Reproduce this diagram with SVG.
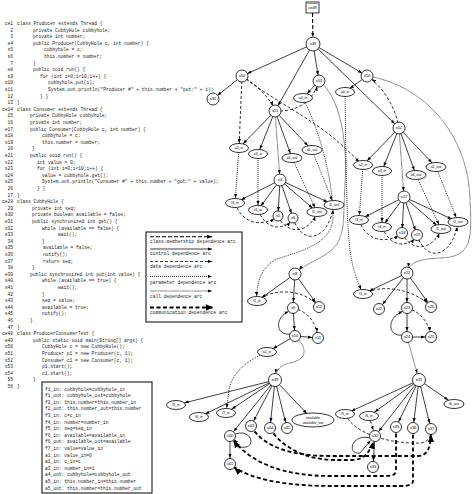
<svg xmlns="http://www.w3.org/2000/svg" width="474" height="494" viewBox="0 0 474 494">
<style>
.code{font-family:"Liberation Mono",monospace;font-size:4.6px;fill:#222}
.ln{text-anchor:end}
.lg{font-family:"Liberation Mono",monospace;font-size:4.6px;fill:#222}
.nd{fill:#fff;stroke:#000;stroke-width:0.8}
.t{font-family:"Liberation Sans",sans-serif;font-size:4px;text-anchor:middle;fill:#000}
.te{font-family:"Liberation Sans",sans-serif;font-size:3.5px;text-anchor:middle;fill:#000}
.ctrl{fill:none;stroke:#000;stroke-width:0.75}
.data{fill:none;stroke:#000;stroke-width:0.8;stroke-dasharray:3 2}
.param{fill:none;stroke:#000;stroke-width:0.8;stroke-dasharray:1 1}
.call{fill:none;stroke:#000;stroke-width:0.8;stroke-dasharray:0.6 0.5}
.comm{fill:none;stroke:#000;stroke-width:1.8;stroke-dasharray:4 2.5}
.cm{fill:none;stroke:#000;stroke-width:1.1;stroke-dasharray:4 2}
.box{fill:#fff;stroke:#000;stroke-width:1}
</style>
<defs>
<marker id="m0" viewBox="0 0 10 10" refX="10" refY="5" markerWidth="4" markerHeight="4" markerUnits="userSpaceOnUse" orient="auto"><path d="M0,1 L10,5 L0,9z" fill="#000"/></marker>
<marker id="m5" viewBox="0 0 10 10" refX="22.5" refY="5" markerWidth="4" markerHeight="4" markerUnits="userSpaceOnUse" orient="auto"><path d="M0,1 L10,5 L0,9z" fill="#000"/></marker>
<marker id="m6" viewBox="0 0 10 10" refX="25" refY="5" markerWidth="4" markerHeight="4" markerUnits="userSpaceOnUse" orient="auto"><path d="M0,1 L10,5 L0,9z" fill="#000"/></marker>
<marker id="m7" viewBox="0 0 10 10" refX="27.5" refY="5" markerWidth="4" markerHeight="4" markerUnits="userSpaceOnUse" orient="auto"><path d="M0,1 L10,5 L0,9z" fill="#000"/></marker>
<marker id="m9" viewBox="0 0 10 10" refX="32.5" refY="5" markerWidth="4" markerHeight="4" markerUnits="userSpaceOnUse" orient="auto"><path d="M0,1 L10,5 L0,9z" fill="#000"/></marker>
<marker id="mb" viewBox="0 0 10 10" refX="18.6" refY="5" markerWidth="7" markerHeight="7" markerUnits="userSpaceOnUse" orient="auto"><path d="M0,0.5 L10,5 L0,9.5z" fill="#000"/></marker>
<marker id="mb0" viewBox="0 0 10 10" refX="10" refY="5" markerWidth="7" markerHeight="7" markerUnits="userSpaceOnUse" orient="auto"><path d="M0,0.5 L10,5 L0,9.5z" fill="#000"/></marker>
<marker id="mc" viewBox="0 0 10 10" refX="10" refY="5" markerWidth="5" markerHeight="5" markerUnits="userSpaceOnUse" orient="auto"><path d="M0,1 L10,5 L0,9z" fill="#000"/></marker>
</defs>
<rect width="474" height="494" fill="#fff"/>

<g id="code">
<text class="code ln" x="13" y="24.9">ce1</text><text class="code" x="17" y="24.9">class Producer extends Thread {</text>
<text class="code ln" x="13" y="31.5">2</text><text class="code" x="33" y="31.5">private CubbyHole cubbyhole;</text>
<text class="code ln" x="13" y="38.1">3</text><text class="code" x="33" y="38.1">private int number;</text>
<text class="code ln" x="13" y="44.7">e4</text><text class="code" x="33" y="44.7">public Producer(CubbyHole c, int number) {</text>
<text class="code ln" x="13" y="51.3">s5</text><text class="code" x="44" y="51.3">cubbyhole = c;</text>
<text class="code ln" x="13" y="57.9">s6</text><text class="code" x="44" y="57.9">this.number = number;</text>
<text class="code ln" x="13" y="64.5">7</text><text class="code" x="33" y="64.5">}</text>
<text class="code ln" x="13" y="71.1">e8</text><text class="code" x="33" y="71.1">public void run() {</text>
<text class="code ln" x="13" y="77.7">s9</text><text class="code" x="40" y="77.7">for (int i=0;i&lt;10;i++) {</text>
<text class="code ln" x="13" y="84.3">s10</text><text class="code" x="48" y="84.3">cubbyhole.put(i);</text>
<text class="code ln" x="13" y="90.9">s11</text><text class="code" x="48" y="90.9">System.out.println("Producer #" + this.number + "put:" + i);</text>
<text class="code ln" x="13" y="97.5">12</text><text class="code" x="40" y="97.5">} }</text>
<text class="code ln" x="13" y="104.1">13</text><text class="code" x="17" y="104.1">}</text>
<text class="code ln" x="13" y="110.7">ce14</text><text class="code" x="17" y="110.7">class Consumer extends Thread {</text>
<text class="code ln" x="13" y="117.3">15</text><text class="code" x="30" y="117.3">private CubbyHole cubbyhole;</text>
<text class="code ln" x="13" y="123.9">16</text><text class="code" x="30" y="123.9">private int number;</text>
<text class="code ln" x="13" y="130.5">e17</text><text class="code" x="30" y="130.5">public Consumer(CubbyHole c, int number) {</text>
<text class="code ln" x="13" y="137.1">s18</text><text class="code" x="42" y="137.1">cubbyhole = c;</text>
<text class="code ln" x="13" y="143.7">s19</text><text class="code" x="42" y="143.7">this.number = number;</text>
<text class="code ln" x="13" y="150.3">20</text><text class="code" x="32" y="150.3">}</text>
<text class="code ln" x="13" y="156.9">e21</text><text class="code" x="30" y="156.9">public void run() {</text>
<text class="code ln" x="13" y="163.5">s22</text><text class="code" x="37" y="163.5">int value = 0;</text>
<text class="code ln" x="13" y="170.1">s23</text><text class="code" x="37" y="170.1">for (int i=0;i&lt;10;i++) {</text>
<text class="code ln" x="13" y="176.7">s24</text><text class="code" x="42" y="176.7">value = cubbyhole.get();</text>
<text class="code ln" x="13" y="183.3">s25</text><text class="code" x="42" y="183.3">System.out.println("Consumer #" + this.number + "got:" + value);</text>
<text class="code ln" x="13" y="189.9">26</text><text class="code" x="37" y="189.9">} }</text>
<text class="code ln" x="13" y="196.5">27</text><text class="code" x="17" y="196.5">}</text>
<text class="code ln" x="13" y="203.1">ce28</text><text class="code" x="17" y="203.1">class CubbyHole {</text>
<text class="code ln" x="13" y="209.7">29</text><text class="code" x="32" y="209.7">private int seq;</text>
<text class="code ln" x="13" y="216.3">s30</text><text class="code" x="32" y="216.3">private boolean available = false;</text>
<text class="code ln" x="13" y="222.9">e31</text><text class="code" x="32" y="222.9">public synchronized int get() {</text>
<text class="code ln" x="13" y="229.5">s32</text><text class="code" x="42" y="229.5">while (available == false) {</text>
<text class="code ln" x="13" y="236.1">s33</text><text class="code" x="58" y="236.1">wait();</text>
<text class="code ln" x="13" y="242.7">34</text><text class="code" x="42" y="242.7">}</text>
<text class="code ln" x="13" y="249.3">s35</text><text class="code" x="43" y="249.3">available = false;</text>
<text class="code ln" x="13" y="255.9">s36</text><text class="code" x="43" y="255.9">notify();</text>
<text class="code ln" x="13" y="262.5">s37</text><text class="code" x="43" y="262.5">return seq;</text>
<text class="code ln" x="13" y="269.1">38</text><text class="code" x="32" y="269.1">}</text>
<text class="code ln" x="13" y="275.7">e39</text><text class="code" x="30" y="275.7">public synchronized int put(int value) {</text>
<text class="code ln" x="13" y="282.3">s40</text><text class="code" x="42" y="282.3">while (available == true) {</text>
<text class="code ln" x="13" y="288.9">s41</text><text class="code" x="58" y="288.9">wait();</text>
<text class="code ln" x="13" y="295.5">42</text><text class="code" x="42" y="295.5">}</text>
<text class="code ln" x="13" y="302.1">s43</text><text class="code" x="42" y="302.1">seq = value;</text>
<text class="code ln" x="13" y="308.7">s44</text><text class="code" x="42" y="308.7">available = true;</text>
<text class="code ln" x="13" y="315.3">s45</text><text class="code" x="42" y="315.3">notify();</text>
<text class="code ln" x="13" y="321.9">46</text><text class="code" x="30" y="321.9">}</text>
<text class="code ln" x="13" y="328.5">47</text><text class="code" x="17" y="328.5">}</text>
<text class="code ln" x="13" y="335.1">ce48</text><text class="code" x="17" y="335.1">class ProducerConsumerTest {</text>
<text class="code ln" x="13" y="341.7">e49</text><text class="code" x="33" y="341.7">public static void main(String[] args) {</text>
<text class="code ln" x="13" y="348.3">s50</text><text class="code" x="42" y="348.3">CubbyHole c = new CubbyHole();</text>
<text class="code ln" x="13" y="354.9">s51</text><text class="code" x="42" y="354.9">Producer p1 = new Producer(c, 1);</text>
<text class="code ln" x="13" y="361.5">s52</text><text class="code" x="42" y="361.5">Consumer c1 = new Consumer(c, 1);</text>
<text class="code ln" x="13" y="368.1">s53</text><text class="code" x="42" y="368.1">p1.start();</text>
<text class="code ln" x="13" y="374.7">s54</text><text class="code" x="42" y="374.7">c1.start();</text>
<text class="code ln" x="13" y="381.3">55</text><text class="code" x="33" y="381.3">}</text>
<text class="code ln" x="13" y="387.9">56</text><text class="code" x="17" y="387.9">}</text>
</g>

<g id="param-legend">
<rect class="box" x="42" y="382" width="110" height="111"/>
<text class="lg" x="45" y="390.6">f1_in: cubbyhole=cubbyhole_in</text>
<text class="lg" x="45" y="397.2">f1_out: cubbyhole_out=cubbyhole</text>
<text class="lg" x="45" y="403.8">f2_in: this.number=this.number_in</text>
<text class="lg" x="45" y="410.4">f2_out: this.number_out=this.number</text>
<text class="lg" x="45" y="417">f3_in: c=c_in</text>
<text class="lg" x="45" y="423.6">f4_in: number=number_in</text>
<text class="lg" x="45" y="430.2">f5_in: seq=seq_in</text>
<text class="lg" x="45" y="436.8">f6_in: available=available_in</text>
<text class="lg" x="45" y="443.4">f6_out: available_out=available</text>
<text class="lg" x="45" y="450">f7_in: value=value_in</text>
<text class="lg" x="45" y="456.6">a1_in: value_in=0</text>
<text class="lg" x="45" y="463.2">a1_in: c_in=c</text>
<text class="lg" x="45" y="469.8">a3_in: number_in=1</text>
<text class="lg" x="45" y="476.4">a4_out: cubbyhole=cubbyhole_out</text>
<text class="lg" x="45" y="483">a5_in: this.number_in=this.number</text>
<text class="lg" x="45" y="489.6">a5_out: this.number=this.number_out</text>
</g>

<g id="arc-legend">
<rect class="box" x="146" y="232" width="96" height="90"/>
<path class="cm" d="M150,236.7 L212,236.7" marker-end="url(#mc)"/>
<text class="lg" x="150" y="243">class-membership dependence arc</text>
<path class="ctrl" d="M150,249 L212,249" marker-end="url(#m0)"/>
<text class="lg" x="150" y="254.5">control dependence arc</text>
<path class="data" d="M150,261.5 L212,261.5" marker-end="url(#m0)"/>
<text class="lg" x="150" y="267.5">data dependence arc</text>
<path class="param" d="M150,276.5 L212,276.5" marker-end="url(#m0)"/>
<text class="lg" x="150" y="283.5">parameter dependence arc</text>
<path class="call" d="M150,291 L212,291" marker-end="url(#m0)"/>
<text class="lg" x="150" y="298">call dependence arc</text>
<path class="comm" d="M150,307.5 L213,307.5" marker-end="url(#mb0)"/>
<text class="lg" x="150" y="313.5">communication dependence arc</text>
</g>

<g id="connectors">
<path class="cm" d="M312.5,13 L313,44" marker-end="url(#m7)"/>
<path class="ctrl" d="M313,44 L242,76" marker-end="url(#m6)"/>
<path class="ctrl" d="M313,44 L275,111" marker-end="url(#m6)"/>
<path class="ctrl" d="M313,44 L319,81" marker-end="url(#m6)"/>
<path class="ctrl" d="M313,44 L399,128" marker-end="url(#m6)"/>
<path class="ctrl" d="M313,44 L367,76" marker-end="url(#m6)"/>
<path class="ctrl" d="M242,76 L213,99" marker-end="url(#m6)"/>
<path class="ctrl" d="M319,81 L303,98" marker-end="url(#m6)"/>
<path class="ctrl" d="M367,76 L345,92" marker-end="url(#m6)"/>
<path class="ctrl" d="M275,111 L239,148" marker-end="url(#m6)"/>
<path class="ctrl" d="M275,111 L258,154" marker-end="url(#m5)"/>
<path class="ctrl" d="M275,111 L292,158" marker-end="url(#m5)"/>
<path class="ctrl" d="M275,111 L312,150" marker-end="url(#m6)"/>
<path class="ctrl" d="M280,180 L235,203" marker-end="url(#m7)"/>
<path class="ctrl" d="M280,180 L258,210" marker-end="url(#m5)"/>
<path class="ctrl" d="M280,180 L278,216" marker-end="url(#m5)"/>
<path class="ctrl" d="M280,180 L293,218" marker-end="url(#m5)"/>
<path class="ctrl" d="M280,180 L317,212" marker-end="url(#m6)"/>
<path class="ctrl" d="M280,180 L334,205" marker-end="url(#m7)"/>
<path class="ctrl" d="M399,128 L363,165" marker-end="url(#m6)"/>
<path class="ctrl" d="M399,128 L382,171" marker-end="url(#m5)"/>
<path class="ctrl" d="M399,128 L416,175" marker-end="url(#m5)"/>
<path class="ctrl" d="M399,128 L436,167" marker-end="url(#m6)"/>
<path class="ctrl" d="M404,197 L359,220" marker-end="url(#m7)"/>
<path class="ctrl" d="M404,197 L382,227" marker-end="url(#m5)"/>
<path class="ctrl" d="M404,197 L402,233" marker-end="url(#m5)"/>
<path class="ctrl" d="M404,197 L417,235" marker-end="url(#m5)"/>
<path class="ctrl" d="M404,197 L441,229" marker-end="url(#m6)"/>
<path class="ctrl" d="M404,197 L458,222" marker-end="url(#m7)"/>
<path class="ctrl" d="M295,274 L257,301" marker-end="url(#m6)"/>
<path class="ctrl" d="M295,274 L293,308" marker-end="url(#m6)"/>
<path class="ctrl" d="M295,274 L319,307" marker-end="url(#m6)"/>
<path class="ctrl" d="M293,308 L295,336" marker-end="url(#m6)"/>
<path class="ctrl" d="M295,336 L318,338" marker-end="url(#m6)"/>
<path class="ctrl" d="M295,336 L267,352" marker-end="url(#m7)"/>
<path class="ctrl" d="M290,334 C276,336 274,318 288.5,311.5" marker-end="url(#m0)"/>
<path class="ctrl" d="M407,273 L363,294" marker-end="url(#m7)"/>
<path class="ctrl" d="M407,273 L379,309" marker-end="url(#m6)"/>
<path class="ctrl" d="M407,273 L407,308" marker-end="url(#m6)"/>
<path class="ctrl" d="M407,273 L431,307" marker-end="url(#m6)"/>
<path class="ctrl" d="M407,308 L407,337" marker-end="url(#m6)"/>
<path class="ctrl" d="M407,337 L431,337" marker-end="url(#m6)"/>
<path class="ctrl" d="M402,335 C388,337 386,318 402.5,311.5" marker-end="url(#m0)"/>
<path class="ctrl" d="M275,380 L176,405" marker-end="url(#m9)"/>
<path class="ctrl" d="M275,380 L199,417" marker-end="url(#m7)"/>
<path class="ctrl" d="M275,380 L226,413" marker-end="url(#m7)"/>
<path class="ctrl" d="M275,380 L230,436" marker-end="url(#m6)"/>
<path class="ctrl" d="M275,380 L251,426" marker-end="url(#m6)"/>
<path class="ctrl" d="M275,380 L270,428" marker-end="url(#m6)"/>
<path class="ctrl" d="M275,380 L287,428" marker-end="url(#m6)"/>
<path class="ctrl" d="M275,380 L313,420" marker-end="url(#m9)"/>
<path class="ctrl" d="M230,436 L230,464" marker-end="url(#m6)"/>
<path class="ctrl" d="M235.5,434 C252,428 258,450 240,447 L234.5,439.5" marker-end="url(#m0)"/>
<path class="ctrl" d="M419,380 L345,414" marker-end="url(#m7)"/>
<path class="ctrl" d="M419,380 L369,416" marker-end="url(#m7)"/>
<path class="ctrl" d="M419,380 L375,436" marker-end="url(#m6)"/>
<path class="ctrl" d="M419,380 L396,427" marker-end="url(#m6)"/>
<path class="ctrl" d="M419,380 L413,428" marker-end="url(#m6)"/>
<path class="ctrl" d="M419,380 L431,429" marker-end="url(#m6)"/>
<path class="ctrl" d="M419,380 L454,404" marker-end="url(#m7)"/>
<path class="ctrl" d="M375,436 L373,467" marker-end="url(#m6)"/>
<path class="ctrl" d="M369.5,438 C352,433 346,455 360,453 L370.5,440.5" marker-end="url(#m0)"/>

<path class="call" d="M275,111 L280,180" marker-end="url(#m6)"/>
<path class="call" d="M399,128 L404,197" marker-end="url(#m6)"/>
<path class="call" d="M319,81 C338,95 348,135 345,185 C343,220 345,230 337,244 C327,258 306,262 295,274" marker-end="url(#m6)"/>
<path class="call" d="M367,76 C420,84 468,130 470,200 C472,240 472,257 440,258 C420,259 409,262 407,273" marker-end="url(#m6)"/>
<path class="call" d="M295,336 C310,350 305,360 290,363 C280,365 276,370 275,380" marker-end="url(#m7)"/>
<path class="call" d="M407,337 L419,380" marker-end="url(#m7)"/>

<path class="param" d="M239,148 L235,203" marker-end="url(#m5)"/>
<path class="param" d="M258,154 L258,210" marker-end="url(#m5)"/>
<path class="param" d="M292,158 L317,212" marker-end="url(#m5)"/>
<path class="param" d="M312,150 L334,205" marker-end="url(#m5)"/>
<path class="param" d="M363,165 L359,220" marker-end="url(#m5)"/>
<path class="param" d="M382,171 L382,227" marker-end="url(#m5)"/>
<path class="param" d="M416,175 L441,229" marker-end="url(#m5)"/>
<path class="param" d="M436,167 L458,222" marker-end="url(#m5)"/>
<path class="param" d="M303,98 C318,128 332,172 333,215 C334,242 305,250 280,258 C262,264 256,282 257,301" marker-end="url(#m5)"/>
<path class="param" d="M345,92 C346,150 346,215 350,250 C353,272 358,282 363,294" marker-end="url(#m5)"/>
<path class="param" d="M267,352 C248,360 232,372 229,390 C228,398 227,405 226,413" marker-end="url(#m5)"/>

<path class="data" d="M242,76 C258,86 270,98 275,111" marker-end="url(#m6)"/>
<path class="data" d="M242,76 L239,148" marker-end="url(#m5)"/>
<path class="data" d="M242,76 C270,98 300,112 330,135 C345,147 355,158 363,165" marker-end="url(#m5)"/>
<path class="data" d="M275,111 C295,112 312,104 319,81" marker-end="url(#m6)"/>
<path class="data" d="M399,128 C396,110 385,88 367,76" marker-end="url(#m6)"/>
<path class="data" d="M235,203 C242,224 262,228 278,216" marker-end="url(#m5)"/>
<path class="data" d="M258,210 C266,230 283,232 293,218" marker-end="url(#m5)"/>
<path class="data" d="M278,216 C286,234 308,236 317,212" marker-end="url(#m5)"/>
<path class="data" d="M293,218 C302,246 328,242 334,205" marker-end="url(#m5)"/>
<path class="data" d="M359,220 C366,241 386,245 402,233" marker-end="url(#m5)"/>
<path class="data" d="M382,227 C390,247 407,249 417,235" marker-end="url(#m5)"/>
<path class="data" d="M402,233 C410,251 432,253 441,229" marker-end="url(#m5)"/>
<path class="data" d="M417,235 C426,263 452,259 458,222" marker-end="url(#m5)"/>
<path class="data" d="M257,301 C272,288 304,288 319,307" marker-end="url(#m6)"/>
<path class="data" d="M293,308 C310,312 316,324 318,338" marker-end="url(#m6)"/>
<path class="data" d="M363,294 C380,284 414,288 431,307" marker-end="url(#m6)"/>
<path class="data" d="M407,308 C422,312 429,324 431,337" marker-end="url(#m6)"/>
<path class="data" d="M345,414 C355,436 395,444 420,443 C428,442 431,438 431,429" marker-end="url(#m6)"/>
<path class="data" d="M369,416 L375,436" marker-end="url(#m6)"/>

<path class="comm" d="M251,426 C262,446 290,456 330,456 L418,456 C428,456 431,447 431,429" marker-end="url(#mb)"/>
<path class="comm" d="M270,428 C280,446 305,460 335,460 L352,460 C364,460 371,452 375,436" marker-end="url(#mb)"/>
<path class="comm" d="M396,427 L396,470 C396,475 392,476 385,476 L330,476 C285,476 250,464 230,436" marker-end="url(#mb)"/>
<path class="comm" d="M413,428 L413,481 C413,485 408,486 400,486 L330,486 C290,486 248,480 230,464" marker-end="url(#mb)"/>
</g>

<g id="ce48"><rect class="nd" x="306" y="2" width="13" height="11"/><rect x="306.4" y="2.4" width="12.2" height="1.6" fill="#999"/><text class="t" x="312.5" y="9.3">ce48</text></g>
<g id="e49"><circle class="nd" cx="313" cy="44" r="7"/><text class="t" x="313" y="45.4">e49</text></g>
<g id="s50"><circle class="nd" cx="242" cy="76" r="6"/><text class="t" x="242" y="77.4">s50</text></g>
<g id="s51"><circle class="nd" cx="275" cy="111" r="6"/><text class="t" x="275" y="112.4">s51</text></g>
<g id="s53"><circle class="nd" cx="319" cy="81" r="6"/><text class="t" x="319" y="82.4">s53</text></g>
<g id="s52"><circle class="nd" cx="399" cy="128" r="6"/><text class="t" x="399" y="129.4">s52</text></g>
<g id="s54"><circle class="nd" cx="367" cy="76" r="6"/><text class="t" x="367" y="77.4">s54</text></g>
<g id="s30"><circle class="nd" cx="213" cy="99" r="6"/><text class="t" x="213" y="100.4">s30</text></g>
<g id="a4inL"><ellipse class="nd" cx="303" cy="98" rx="9.5" ry="4.5"/><text class="te" x="303" y="99.2">a4_in</text></g>
<g id="a4inR"><ellipse class="nd" cx="345" cy="92" rx="9.5" ry="4.5"/><text class="te" x="345" y="93.2">a4_in</text></g>

<g id="a2L"><ellipse class="nd" cx="239" cy="148" rx="9.5" ry="4.5"/><text class="te" x="239" y="149.2">a2_in</text></g>
<g id="a3L"><ellipse class="nd" cx="258" cy="154" rx="9.5" ry="4.5"/><text class="te" x="258" y="155.2">a3_in</text></g>
<g id="a4oL"><ellipse class="nd" cx="292" cy="158" rx="10" ry="4.5"/><text class="te" x="292" y="159.2">a4_out</text></g>
<g id="a5oL"><ellipse class="nd" cx="312" cy="150" rx="10" ry="4.5"/><text class="te" x="312" y="151.2">a5_out</text></g>
<g id="e4"><circle class="nd" cx="280" cy="180" r="6"/><text class="t" x="280" y="181.4">e4</text></g>
<g id="f3L"><ellipse class="nd" cx="235" cy="203" rx="9.5" ry="4.5"/><text class="te" x="235" y="204.2">f3_in</text></g>
<g id="f4L"><ellipse class="nd" cx="258" cy="210" rx="9.5" ry="4.5"/><text class="te" x="258" y="211.2">f4_in</text></g>
<g id="s5"><circle class="nd" cx="278" cy="216" r="5"/><text class="t" x="278" y="217.4">s5</text></g>
<g id="s6"><circle class="nd" cx="293" cy="218" r="5"/><text class="t" x="293" y="219.4">s6</text></g>
<g id="f1oL"><ellipse class="nd" cx="317" cy="212" rx="10" ry="4.5"/><text class="te" x="317" y="213.2">f1_out</text></g>
<g id="f2oL"><ellipse class="nd" cx="334" cy="205" rx="10" ry="4.5"/><text class="te" x="334" y="206.2">f2_out</text></g>

<g id="a2R"><ellipse class="nd" cx="363" cy="165" rx="9.5" ry="4.5"/><text class="te" x="363" y="166.2">a2_in</text></g>
<g id="a3R"><ellipse class="nd" cx="382" cy="171" rx="9.5" ry="4.5"/><text class="te" x="382" y="172.2">a3_in</text></g>
<g id="a4oR"><ellipse class="nd" cx="416" cy="175" rx="10" ry="4.5"/><text class="te" x="416" y="176.2">a4_out</text></g>
<g id="a5oR"><ellipse class="nd" cx="436" cy="167" rx="10" ry="4.5"/><text class="te" x="436" y="168.2">a5_out</text></g>
<g id="e17"><circle class="nd" cx="404" cy="197" r="6"/><text class="t" x="404" y="198.4">e17</text></g>
<g id="f3R"><ellipse class="nd" cx="359" cy="220" rx="9.5" ry="4.5"/><text class="te" x="359" y="221.2">f3_in</text></g>
<g id="f4R"><ellipse class="nd" cx="382" cy="227" rx="9.5" ry="4.5"/><text class="te" x="382" y="228.2">f4_in</text></g>
<g id="s18"><circle class="nd" cx="402" cy="233" r="5.5"/><text class="t" x="402" y="234.4">s18</text></g>
<g id="s19"><circle class="nd" cx="417" cy="235" r="5.5"/><text class="t" x="417" y="236.4">s19</text></g>
<g id="f1oR"><ellipse class="nd" cx="441" cy="229" rx="10" ry="4.5"/><text class="te" x="441" y="230.2">f1_out</text></g>
<g id="f2oR"><ellipse class="nd" cx="458" cy="222" rx="10" ry="4.5"/><text class="te" x="458" y="223.2">f2_out</text></g>

<g id="e8"><circle class="nd" cx="295" cy="274" r="6"/><text class="t" x="295" y="275.4">e8</text></g>
<g id="f1iL"><ellipse class="nd" cx="257" cy="301" rx="9.5" ry="4.5"/><text class="te" x="257" y="302.2">f1_in</text></g>
<g id="s9"><circle class="nd" cx="293" cy="308" r="5.5"/><text class="t" x="293" y="309.4">s9</text></g>
<g id="s12"><circle class="nd" cx="319" cy="307" r="5.5"/><text class="t" x="319" y="308.4">s12</text></g>
<g id="s10"><circle class="nd" cx="295" cy="336" r="5.5"/><text class="t" x="295" y="337.4">s10</text></g>
<g id="s11"><circle class="nd" cx="318" cy="338" r="5.5"/><text class="t" x="318" y="339.4">s11</text></g>
<g id="a1in"><ellipse class="nd" cx="267" cy="352" rx="9.5" ry="4.5"/><text class="te" x="267" y="353.2">a1_in</text></g>

<g id="e21"><circle class="nd" cx="407" cy="273" r="6"/><text class="t" x="407" y="274.4">e21</text></g>
<g id="f1iR"><ellipse class="nd" cx="363" cy="294" rx="9.5" ry="4.5"/><text class="te" x="363" y="295.2">f1_in</text></g>
<g id="s22"><circle class="nd" cx="379" cy="309" r="5.5"/><text class="t" x="379" y="310.4">s22</text></g>
<g id="s23"><circle class="nd" cx="407" cy="308" r="5.5"/><text class="t" x="407" y="309.4">s23</text></g>
<g id="s26"><circle class="nd" cx="431" cy="307" r="5.5"/><text class="t" x="431" y="308.4">s26</text></g>
<g id="s24"><circle class="nd" cx="407" cy="337" r="5.5"/><text class="t" x="407" y="338.4">s24</text></g>
<g id="s25"><circle class="nd" cx="431" cy="337" r="5.5"/><text class="t" x="431" y="338.4">s25</text></g>

<g id="e39"><circle class="nd" cx="275" cy="380" r="6.5"/><text class="t" x="275" y="381.4">e39</text></g>
<g id="f5L"><ellipse class="nd" cx="176" cy="405" rx="9.5" ry="4.5"/><text class="te" x="176" y="406.2">f5_in</text></g>
<g id="f6L"><ellipse class="nd" cx="199" cy="417" rx="9.5" ry="4.5"/><text class="te" x="199" y="418.2">f6_in</text></g>
<g id="f7L"><ellipse class="nd" cx="226" cy="413" rx="9.5" ry="4.5"/><text class="te" x="226" y="414.2">f7_in</text></g>
<g id="s40"><circle class="nd" cx="230" cy="436" r="5.5"/><text class="t" x="230" y="437.4">s40</text></g>
<g id="s43"><circle class="nd" cx="251" cy="426" r="5.5"/><text class="t" x="251" y="427.4">s43</text></g>
<g id="s44"><circle class="nd" cx="270" cy="428" r="5.5"/><text class="t" x="270" y="429.4">s44</text></g>
<g id="s45"><circle class="nd" cx="287" cy="428" r="5.5"/><text class="t" x="287" y="429.4">s45</text></g>
<g id="avL"><ellipse class="nd" cx="313" cy="420" rx="21" ry="7"/><text class="te" x="313" y="418.5">available</text><text class="te" x="313" y="423.5">available_out</text></g>
<g id="s41"><circle class="nd" cx="230" cy="464" r="5.5"/><text class="t" x="230" y="465.4">s41</text></g>

<g id="e31"><circle class="nd" cx="419" cy="380" r="6.5"/><text class="t" x="419" y="381.4">e31</text></g>
<g id="f5R"><ellipse class="nd" cx="345" cy="414" rx="9.5" ry="4.5"/><text class="te" x="345" y="415.2">f5_in</text></g>
<g id="f6R"><ellipse class="nd" cx="369" cy="416" rx="9.5" ry="4.5"/><text class="te" x="369" y="417.2">f6_in</text></g>
<g id="s32"><circle class="nd" cx="375" cy="436" r="5.5"/><text class="t" x="375" y="437.4">s32</text></g>
<g id="s35"><circle class="nd" cx="396" cy="427" r="5.5"/><text class="t" x="396" y="428.4">s35</text></g>
<g id="s36"><circle class="nd" cx="413" cy="428" r="5.5"/><text class="t" x="413" y="429.4">s36</text></g>
<g id="s37"><circle class="nd" cx="431" cy="429" r="5.5"/><text class="t" x="431" y="430.4">s37</text></g>
<g id="f6oR"><ellipse class="nd" cx="454" cy="404" rx="10" ry="4.5"/><text class="te" x="454" y="405.2">f6_out</text></g>
<g id="s33"><circle class="nd" cx="373" cy="467" r="5.5"/><text class="t" x="373" y="468.4">s33</text></g>
</svg>
